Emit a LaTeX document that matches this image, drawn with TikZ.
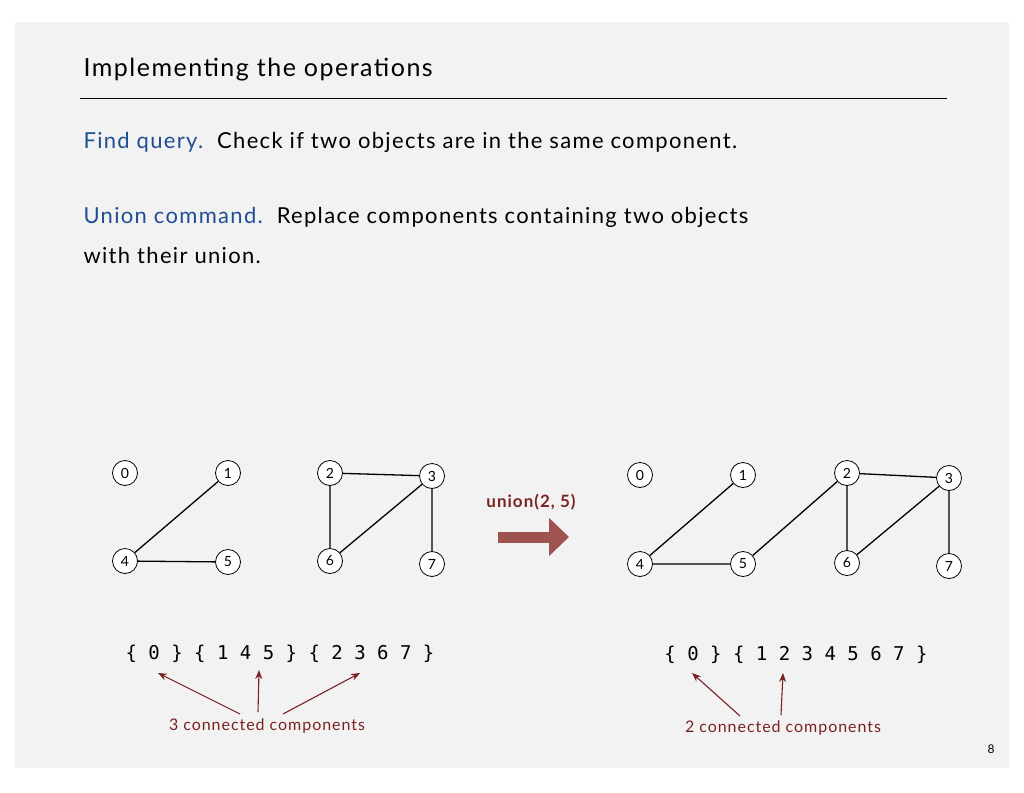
\documentclass[tikz,border=0pt]{standalone}
\usepackage{fontspec}
\setmainfont[LetterSpace=6]{Lato}
\newfontfamily\monof{DejaVu Sans Mono}
\usetikzlibrary{arrows.meta}
\definecolor{slide}{HTML}{F2F2F2}
\definecolor{findblue}{HTML}{1F4E94}
\definecolor{dred}{HTML}{7A2222}
\definecolor{arrred}{HTML}{9E5350}
\tikzset{
  vert/.style={circle,draw,fill=white,line width=0.8pt,minimum size=25pt,inner sep=0pt,font=\fontsize{14}{14}\selectfont},
  edge/.style={line width=1.3pt},
  lbl/.style={dred,-{Stealth[length=9pt,width=7pt]},line width=1.1pt},
  body/.style={anchor=west,font=\fontsize{22}{26}\selectfont}
}
\begin{document}
\begin{tikzpicture}[x=1pt,y=-1pt]
\useasboundingbox (0,0) rectangle (1024,792);
\fill[white] (0,0) rectangle (1024,792);
\fill[slide] (15,22) rectangle (1009,768);
\node[anchor=west,font=\fontsize{25}{28}\selectfont] (title) at (80,70) {Implementing the operations};
\draw[line width=0.8pt] (80,98) -- (947,98);
\node[body] (t1) at (80,142) {\textcolor{findblue}{Find query.}\ \ Check if two objects are in the same component.};
\node[body] (t2) at (80,217) {\textcolor{findblue}{Union command.}\ \ Replace components containing two objects};
\node[body] (t3) at (80,255) {with their union.};
% left graph
\node[vert] (a0) at (125,473) {0};
\node[vert] (a1) at (228,473) {1};
\node[vert] (a4) at (125,561) {4};
\node[vert] (a5) at (228,562) {5};
\node[vert] (a2) at (330,473) {2};
\node[vert] (a3) at (432,476) {3};
\node[vert] (a6) at (330,561) {6};
\node[vert] (a7) at (432,564) {7};
\draw[edge] (a1)--(a4) (a4)--(a5) (a2)--(a3) (a2)--(a6) (a3)--(a6) (a3)--(a7);
% right graph
\node[vert] (b0) at (640,475) {0};
\node[vert] (b1) at (743,475) {1};
\node[vert] (b4) at (640,564) {4};
\node[vert] (b5) at (743,564) {5};
\node[vert] (b2) at (847,473) {2};
\node[vert] (b3) at (949,478) {3};
\node[vert] (b6) at (847,563) {6};
\node[vert] (b7) at (949,566) {7};
\draw[edge] (b1)--(b4) (b4)--(b5) (b5)--(b2) (b2)--(b3) (b2)--(b6) (b3)--(b6) (b3)--(b7);
% union arrow
\node[font=\bfseries\fontsize{17}{17}\selectfont,text=dred] (u) at (531,502) {union(2, 5)};
\coordinate (ua) at (498,537);
\coordinate (ub) at (569,537);
\draw[arrred,line width=11pt,-{Triangle[length=20pt,width=37pt]}] (ua) -- (ub);
% sets
\node[font=\monof\fontsize{19}{19}\selectfont] (s1) at (280,654) {\{ 0 \} \{ 1 4 5 \} \{ 2 3 6 7 \}};
\node[font=\monof\fontsize{19}{19}\selectfont] (s2) at (796,655) {\{ 0 \} \{ 1 2 3 4 5 6 7 \}};
\node[text=dred,font=\fontsize{16}{16}\selectfont] (c1) at (267,726) {3 connected components};
\node[text=dred,font=\fontsize{16}{16}\selectfont] (c2) at (783,728) {2 connected components};
\coordinate (p1) at (158,673); \coordinate (p2) at (259,670); \coordinate (p3) at (360,673);
\coordinate (q1) at (692,673); \coordinate (q2) at (783,673);
\draw[lbl] (240,714) -- (p1);
\draw[lbl] (258,712) -- (p2);
\draw[lbl] (283,714) -- (p3);
\draw[lbl] (740,716) -- (q1);
\draw[lbl] (781,715) -- (q2);
\node[font=\fontsize{12}{12}\selectfont] (pg) at (991,749) {8};
\end{tikzpicture}
\end{document}
